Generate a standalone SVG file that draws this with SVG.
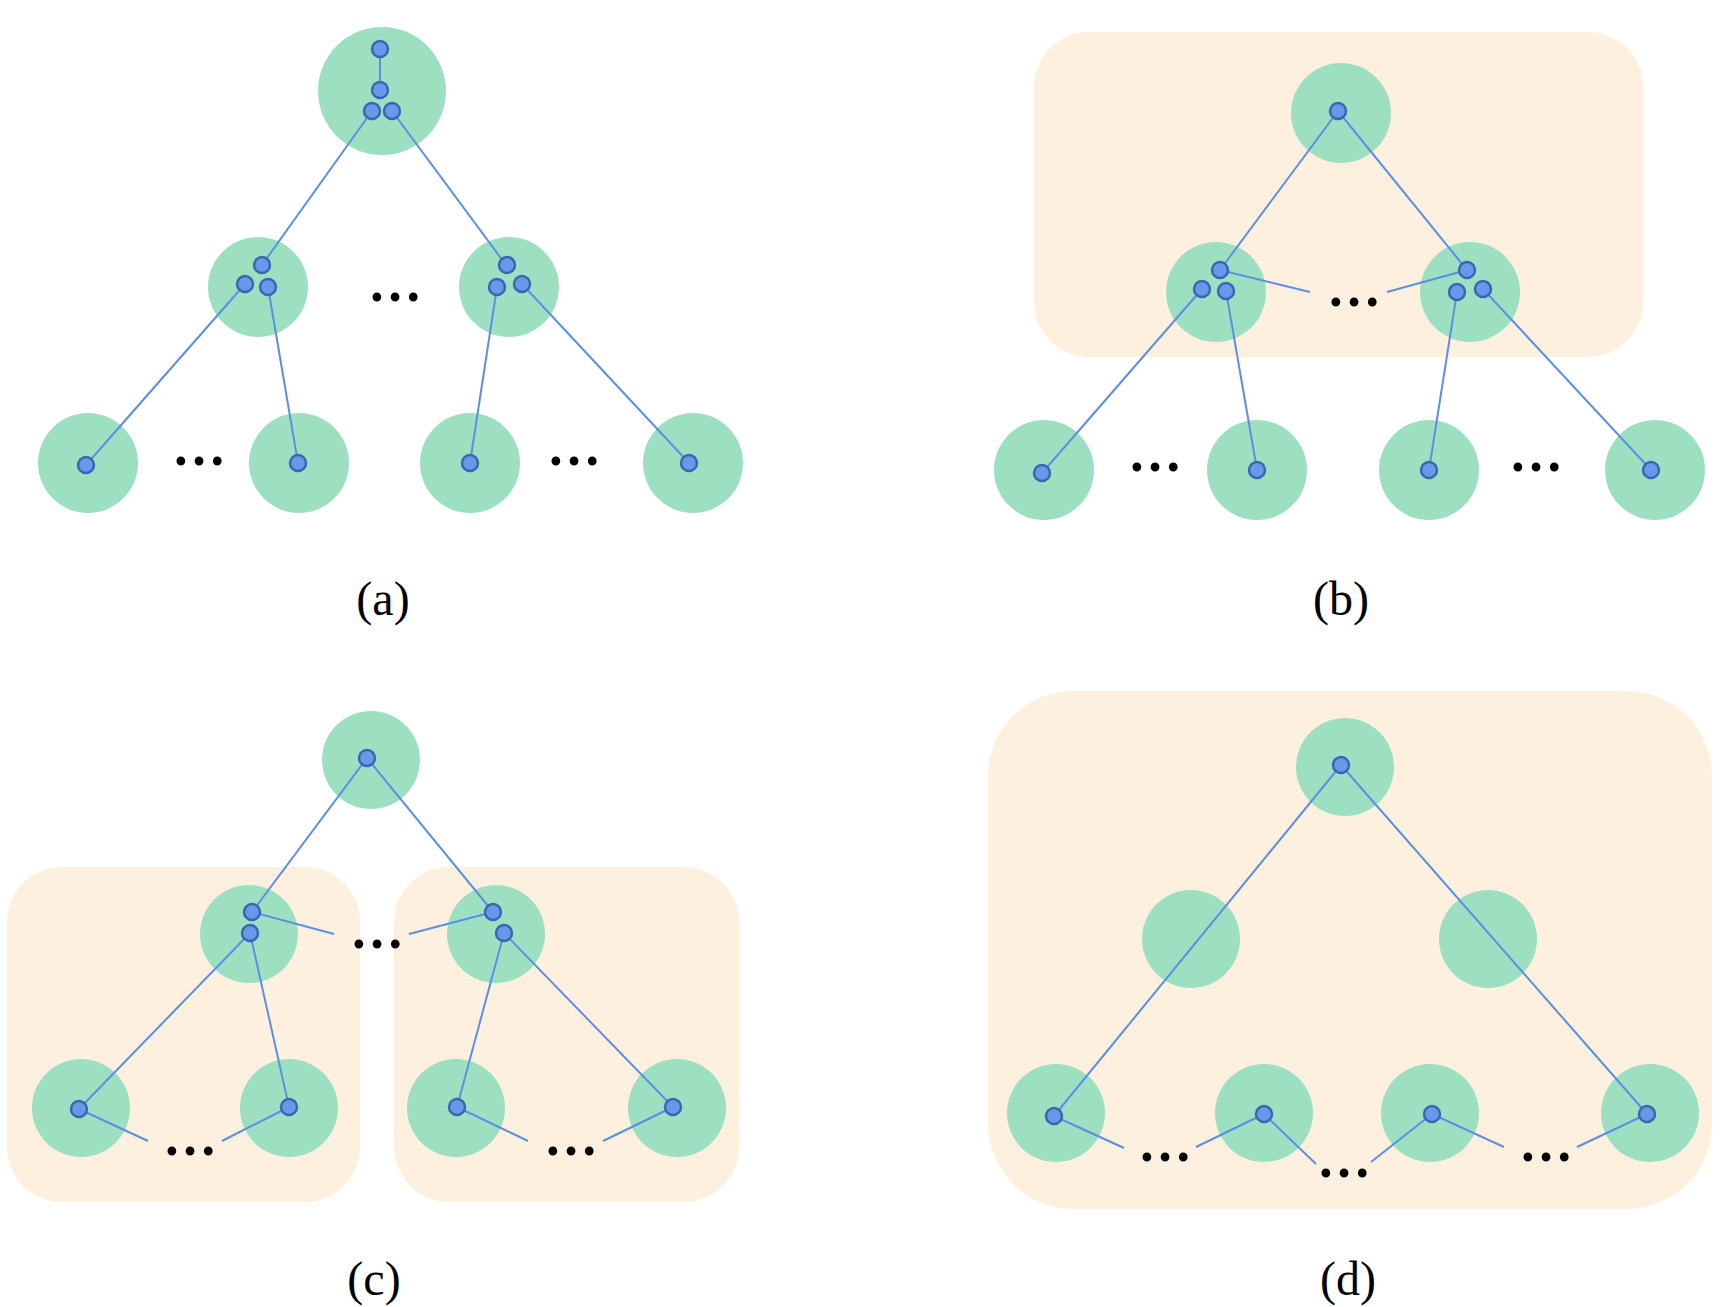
<svg xmlns="http://www.w3.org/2000/svg" width="1725" height="1307" viewBox="0 0 1725 1307">
<style>
.bg{fill:#fef0de}
.n{fill:#9de0c1}
.d{fill:#6699ea;stroke:#3d65b0;stroke-width:2.5}
.e{stroke:#5b8fe6;stroke-width:2;fill:none}
.el{font-family:"Liberation Serif",serif;font-size:54px;font-weight:bold;fill:#000;text-anchor:middle}
.lb{font-family:"Liberation Serif",serif;font-size:48px;fill:#000;text-anchor:middle}
</style>
<rect width="1725" height="1307" fill="#fff"/>
<!-- backgrounds -->
<rect class="bg" x="1034" y="32" width="609" height="325" rx="55"/>
<rect class="bg" x="7" y="867" width="353" height="335" rx="55"/>
<rect class="bg" x="394" y="867" width="345" height="335" rx="55"/>
<rect class="bg" x="988" y="691" width="724" height="518" rx="85"/>

<!-- panel (a) nodes -->
<g id="a-top"><circle class="n" cx="382" cy="91" r="64"/></g>
<g id="a-mid1"><circle class="n" cx="258" cy="287" r="50"/></g>
<g id="a-mid2"><circle class="n" cx="509" cy="287" r="50"/></g>
<g id="a-b1"><circle class="n" cx="88" cy="463" r="50"/></g>
<g id="a-b2"><circle class="n" cx="299" cy="463" r="50"/></g>
<g id="a-b3"><circle class="n" cx="470" cy="463" r="50"/></g>
<g id="a-b4"><circle class="n" cx="693" cy="463" r="50"/></g>

<!-- panel (b) nodes -->
<g id="b-top"><circle class="n" cx="1341" cy="113" r="50"/></g>
<g id="b-mid1"><circle class="n" cx="1216" cy="292" r="50"/></g>
<g id="b-mid2"><circle class="n" cx="1470" cy="292" r="50"/></g>
<g id="b-b1"><circle class="n" cx="1044" cy="470" r="50"/></g>
<g id="b-b2"><circle class="n" cx="1257" cy="470" r="50"/></g>
<g id="b-b3"><circle class="n" cx="1429" cy="470" r="50"/></g>
<g id="b-b4"><circle class="n" cx="1655" cy="470" r="50"/></g>

<!-- panel (c) nodes -->
<g id="c-top"><circle class="n" cx="371" cy="760" r="49"/></g>
<g id="c-mid1"><circle class="n" cx="249" cy="934" r="49"/></g>
<g id="c-mid2"><circle class="n" cx="496" cy="934" r="49"/></g>
<g id="c-b1"><circle class="n" cx="81" cy="1108" r="49"/></g>
<g id="c-b2"><circle class="n" cx="289" cy="1108" r="49"/></g>
<g id="c-b3"><circle class="n" cx="456" cy="1108" r="49"/></g>
<g id="c-b4"><circle class="n" cx="677" cy="1108" r="49"/></g>

<!-- panel (d) nodes -->
<g id="d-top"><circle class="n" cx="1345" cy="767" r="49"/></g>
<g id="d-mid1"><circle class="n" cx="1191" cy="939" r="49"/></g>
<g id="d-mid2"><circle class="n" cx="1488" cy="939" r="49"/></g>
<g id="d-b1"><circle class="n" cx="1056" cy="1113" r="49"/></g>
<g id="d-b2"><circle class="n" cx="1264" cy="1113" r="49"/></g>
<g id="d-b3"><circle class="n" cx="1430" cy="1113" r="49"/></g>
<g id="d-b4"><circle class="n" cx="1650" cy="1113" r="49"/></g>

<g id="connectors" class="e">
<!-- a -->
<line x1="380" y1="49" x2="380" y2="90"/>
<line x1="372" y1="111" x2="262" y2="265"/>
<line x1="392" y1="111" x2="506" y2="265"/>
<line x1="245" y1="284" x2="86" y2="465"/>
<line x1="268" y1="287" x2="298" y2="463"/>
<line x1="497" y1="287" x2="470" y2="463"/>
<line x1="522" y1="284" x2="689" y2="463"/>
<!-- b -->
<line x1="1338" y1="111" x2="1220" y2="270"/>
<line x1="1338" y1="111" x2="1467" y2="270"/>
<line x1="1220" y1="270" x2="1310" y2="292"/>
<line x1="1467" y1="270" x2="1387" y2="292"/>
<line x1="1202" y1="289" x2="1042" y2="473"/>
<line x1="1226" y1="291" x2="1257" y2="470"/>
<line x1="1457" y1="292" x2="1429" y2="470"/>
<line x1="1483" y1="289" x2="1651" y2="470"/>
<!-- c -->
<line x1="367" y1="758" x2="252" y2="912"/>
<line x1="367" y1="758" x2="493" y2="912"/>
<line x1="252" y1="912" x2="334" y2="934"/>
<line x1="493" y1="912" x2="409" y2="934"/>
<line x1="250" y1="933" x2="79" y2="1109"/>
<line x1="250" y1="933" x2="289" y2="1107"/>
<line x1="504" y1="933" x2="457" y2="1107"/>
<line x1="504" y1="933" x2="673" y2="1107"/>
<line x1="79" y1="1109" x2="148" y2="1141"/>
<line x1="289" y1="1107" x2="222" y2="1141"/>
<line x1="457" y1="1107" x2="528" y2="1141"/>
<line x1="673" y1="1107" x2="603" y2="1141"/>
<!-- d -->
<line x1="1341" y1="765" x2="1054" y2="1116"/>
<line x1="1341" y1="765" x2="1647" y2="1114"/>
<line x1="1054" y1="1116" x2="1124" y2="1148"/>
<line x1="1264" y1="1114" x2="1196" y2="1147"/>
<line x1="1264" y1="1114" x2="1316" y2="1164"/>
<line x1="1432" y1="1114" x2="1371" y2="1162"/>
<line x1="1432" y1="1114" x2="1504" y2="1147"/>
<line x1="1647" y1="1114" x2="1577" y2="1147"/>
</g>

<!-- dots (ports) -->
<g id="ports">
<circle class="d" cx="380" cy="49" r="8"/>
<circle class="d" cx="380" cy="90" r="8"/>
<circle class="d" cx="372" cy="111" r="8"/>
<circle class="d" cx="392" cy="111" r="8"/>
<circle class="d" cx="262" cy="265" r="8"/>
<circle class="d" cx="245" cy="284" r="8"/>
<circle class="d" cx="268" cy="287" r="8"/>
<circle class="d" cx="507" cy="265" r="8"/>
<circle class="d" cx="497" cy="287" r="8"/>
<circle class="d" cx="522" cy="284" r="8"/>
<circle class="d" cx="86" cy="465" r="8"/>
<circle class="d" cx="298" cy="463" r="8"/>
<circle class="d" cx="470" cy="463" r="8"/>
<circle class="d" cx="689" cy="463" r="8"/>

<circle class="d" cx="1338" cy="111" r="8"/>
<circle class="d" cx="1220" cy="270" r="8"/>
<circle class="d" cx="1202" cy="289" r="8"/>
<circle class="d" cx="1226" cy="291" r="8"/>
<circle class="d" cx="1467" cy="270" r="8"/>
<circle class="d" cx="1457" cy="292" r="8"/>
<circle class="d" cx="1483" cy="289" r="8"/>
<circle class="d" cx="1042" cy="473" r="8"/>
<circle class="d" cx="1257" cy="470" r="8"/>
<circle class="d" cx="1429" cy="470" r="8"/>
<circle class="d" cx="1651" cy="470" r="8"/>

<circle class="d" cx="367" cy="758" r="8"/>
<circle class="d" cx="252" cy="912" r="8"/>
<circle class="d" cx="250" cy="933" r="8"/>
<circle class="d" cx="493" cy="912" r="8"/>
<circle class="d" cx="504" cy="933" r="8"/>
<circle class="d" cx="79" cy="1109" r="8"/>
<circle class="d" cx="289" cy="1107" r="8"/>
<circle class="d" cx="457" cy="1107" r="8"/>
<circle class="d" cx="673" cy="1107" r="8"/>

<circle class="d" cx="1341" cy="765" r="8"/>
<circle class="d" cx="1054" cy="1116" r="8"/>
<circle class="d" cx="1264" cy="1114" r="8"/>
<circle class="d" cx="1432" cy="1114" r="8"/>
<circle class="d" cx="1647" cy="1114" r="8"/>
</g>

<!-- ellipses -->
<g id="ellipses">
<text class="el" x="395" y="301">…</text>
<text class="el" x="199" y="465">…</text>
<text class="el" x="574" y="465">…</text>
<text class="el" x="1354" y="306">…</text>
<text class="el" x="1155" y="471">…</text>
<text class="el" x="1536" y="471">…</text>
<text class="el" x="377" y="948">…</text>
<text class="el" x="190" y="1155">…</text>
<text class="el" x="571" y="1155">…</text>
<text class="el" x="1165" y="1161">…</text>
<text class="el" x="1344" y="1177">…</text>
<text class="el" x="1546" y="1161">…</text>
</g>

<!-- labels -->
<text class="lb" x="383" y="615">(a)</text>
<text class="lb" x="1341" y="615">(b)</text>
<text class="lb" x="374" y="1295">(c)</text>
<text class="lb" x="1348" y="1295">(d)</text>
</svg>
